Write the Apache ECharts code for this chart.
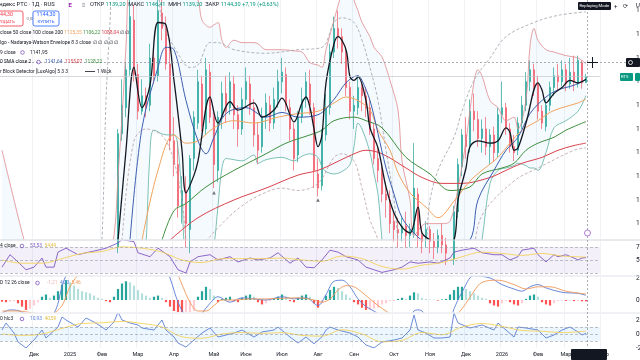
<!DOCTYPE html>
<html><head><meta charset="utf-8">
<script src="https://cdn.jsdelivr.net/npm/echarts@6/dist/echarts.min.js"></script>
<style>html,body{margin:0;padding:0;background:#fff;overflow:hidden}#c{width:640px;height:360px}</style>
</head><body><div id="c"></div>
<script>
// ---------- DATA ----------
const categoryCount = 150;
const monthTicks = [[8,'Дек'],[17,'2025'],[25,'Фев'],[34,'Мар'],[43,'Апр'],[53,'Май'],[61,'Июн'],[70,'Июл'],[79,'Авг'],[88,'Сен'],[98,'Окт'],[107,'Ноя'],[116,'Дек'],[125,'2026'],[134,'Фев'],[141,'Мар']];

const opens = [885,880,872,860,848,835,820,805,792,800,818,835,842,858,872,890,902,895,905,915,902,912,925,918,930,942,955,968,
985,1000,1096,1118,1150,1192,1146,1115,1128,1120,1160,1145,1198,1185,1155,1090,1070,1035,1048,1015,1075,1105,
1138,1100,1148,1110,1065,1110,1130,1118,1138,1112,1100,1125,1138,1118,1095,1085,1110,1120,1105,1125,
1140,1146,1118,1100,1078,1110,1125,1138,1118,1062,1052,1095,1118,1165,1185,1178,1165,1135,1115,1118,
1135,1128,1118,1100,1075,1065,1045,1040,1022,1015,1012,1018,1010,1012,1045,1010,1008,1015,1005,1000,
1010,1002,995,990,1030,1068,1095,1085,1115,1108,1092,1100,1085,1095,1080,1112,1118,1100,1085,1082,
1105,1120,1140,1150,1138,1115,1102,1120,1135,1145,1140,1150,1138,1148,1138,1156,1139.2];
const closes = [880,872,860,848,835,820,805,792,800,818,835,842,858,872,890,902,895,905,915,902,912,925,918,930,942,955,968,985,
1000,1096,1120,1150,1195,1146,1115,1128,1118,1160,1145,1200,1185,1155,1090,1070,1035,1048,1020,1075,1110,1140,
1102,1150,1110,1070,1110,1130,1115,1140,1112,1100,1125,1140,1118,1095,1082,1110,1122,1105,1125,1140,
1148,1120,1100,1075,1110,1125,1140,1120,1065,1050,1095,1118,1165,1185,1178,1165,1135,1115,1120,1135,
1128,1118,1100,1075,1065,1045,1040,1020,1015,1012,1018,1010,1015,1050,1010,1005,1015,1005,1000,1010,
1002,995,990,1030,1070,1095,1085,1115,1108,1092,1100,1085,1095,1080,1112,1118,1100,1085,1080,1105,
1120,1140,1150,1135,1115,1105,1120,1135,1145,1140,1150,1138,1148,1140,1158,1139,1144.3];
const lows = [876,868,855,842,830,815,800,786,788,796,812,830,838,852,866,885,890,890,900,898,898,908,912,915,926,938,950,962,
982,995,1090,1110,1145,1140,1108,1112,1110,1115,1138,1140,1175,1150,1082,1060,1025,1020,1000,995,1065,1100,
1098,1095,1105,1050,1055,1100,1105,1112,1100,1085,1095,1118,1112,1085,1070,1080,1100,1098,1100,1118,
1130,1115,1090,1065,1072,1105,1118,1112,1050,1043,1048,1090,1112,1160,1168,1155,1128,1108,1100,1112,
1115,1110,1095,1070,1055,1038,1025,1012,1005,1000,1005,1000,1000,1008,1000,995,1000,995,990,995,
995,985,980,985,1025,1060,1075,1080,1098,1085,1080,1078,1070,1072,1076,1105,1095,1080,1073,1078,
1100,1115,1132,1128,1108,1100,1098,1115,1128,1132,1136,1132,1134,1132,1135,1134,1139.2];
const highs = [890,884,876,864,852,840,824,810,806,822,840,848,862,876,895,907,905,910,920,918,916,930,928,935,946,960,972,990,
1004,1100,1142,1156,1215,1205,1155,1142,1135,1172,1170,1212,1210,1195,1170,1110,1090,1060,1060,1078,1115,1150,
1145,1160,1155,1115,1115,1140,1145,1148,1145,1120,1135,1152,1145,1125,1105,1118,1130,1128,1135,1150,
1160,1152,1125,1105,1115,1135,1148,1150,1122,1075,1100,1130,1172,1195,1200,1185,1170,1140,1128,1145,
1140,1135,1125,1105,1085,1070,1055,1048,1030,1025,1025,1030,1020,1088,1050,1018,1022,1018,1012,1015,
1020,1008,1005,1035,1075,1100,1110,1125,1130,1115,1108,1110,1100,1102,1118,1140,1122,1105,1095,1110,
1128,1148,1158,1155,1145,1120,1125,1140,1152,1155,1158,1155,1160,1162,1162,1158,1146.41];

const ema9 = [[29,1006],[31,1082],[33,1152],[35,1118],[37,1137],[39,1190],[41,1188],[43,1141],[45,1082],[46,1046],[48,1061],[49,1073],[52,1127],[54,1105],[57,1123],[59,1116],[63,1122],[65,1110],[68,1116],[70,1126],[73,1106],[75,1122],[76,1127],[77,1118],[78,1100],[79,1085],[80,1095],[81,1139],[83,1172],[84,1178],[86,1167],[87,1144],[88,1141],[89,1144],[91,1124],[92,1101],[94,1084],[96,1051],[98,1029],[100,1017],[102,1012],[104,1034],[105,1012],[107,1006],[110,995],[113,1006],[114,1040],[116,1067],[117,1085],[119,1090],[122,1088],[124,1090],[126,1101],[127,1097],[128,1082],[129,1084],[131,1105],[134,1139],[135,1133],[136,1122],[138,1130],[140,1135],[142,1141],[144,1139],[146,1141.95]];
const bbBasis = [[32,1006],[35,1101],[39,1152],[41,1169],[43,1167],[46,1124],[49,1090],[51,1079],[53,1093],[56,1113],[61,1118],[66,1110],[70,1114],[74,1110],[79,1112],[83,1125],[86,1139],[89,1145],[90,1141],[92,1124],[94,1096],[96,1067],[98,1045],[100,1025],[103,1012],[107,1000],[111,990],[117,1006],[119,1040],[123,1065],[126,1082],[129,1093],[132,1113],[136,1127],[139,1133],[143,1137],[146,1141.64]];
const bbIdx   = [0,3,6,12,20,26,28,29,30,31,32,35,36,37,38,41,43,44,45,46,49,50,52,53,54,55,56,58,60,63,64,66,70,73,75,77,79,80,81,83,85,87,88,89,90,92,93,94,95,96,97,99,100,102,103,106,110,112,114,116,118,119,120,122,124,126,128,129,131,132,133,134,136,138,141,144,146];
const bbUpper = [1082,1040,1000,930,950,985,1010,1060,1110,1170,1230,1260,1260,1260,1260,1250,1240,1235,1230,1225,1209,1192,1186,1188,1190,1175,1169,1175,1173,1173,1172,1167,1167,1166,1165,1156,1154,1152,1167,1192,1215,1230,1209,1200,1190,1178,1169,1165,1161,1152,1141,1116,1073,1040,1010,1020,1020,1022,1050,1090,1140,1150,1145,1124,1118,1107,1110,1100,1125,1170,1185,1175,1167,1165,1162,1160,1155.07];
const bbLower = [820,810,790,780,840,880,900,880,870,880,900,950,1000,1080,1099,1095,1095,1084,1040,990,960,960,980,1000,1035,1067,1075,1074,1073,1078,1071,1074,1076,1073,1077,1079,1076,1068,1064,1062,1064,1070,1085,1105,1100,1080,1062,1045,1006,975,960,940,935,930,932,935,940,945,950,960,975,990,1006,1054,1065,1067,1069,1071,1069,1067,1067,1065,1080,1101,1107,1115,1128.22];
const ma50  = [[35,1006],[39,1065],[43,1095],[46,1088],[49,1090],[53,1101],[58,1107],[63,1105],[69,1110],[74,1113],[79,1115],[83,1122],[86,1127],[89,1124],[92,1116],[94,1099],[97,1082],[99,1063],[102,1046],[106,1034],[109,1025],[113,1039],[117,1056],[120,1065],[124,1076],[127,1088],[130,1099],[134,1107],[137,1114],[140,1118],[144,1122],[146,1125.35]];
const ma100 = [[40,1006],[43,1031],[46,1037],[51,1051],[58,1065],[66,1079],[71,1088],[77,1095],[80,1099],[83,1107],[88,1110],[91,1107],[95,1101],[101,1076],[107,1062],[112,1048],[117,1051],[120,1062],[125,1067],[128,1071],[131,1082],[134,1088],[138,1093],[141,1099],[146,1106.22]];
const ma200 = [[42,1006],[49,1025],[58,1040],[66,1050],[74,1061],[79,1065],[83,1071],[88,1079],[91,1082],[95,1079],[101,1067],[105,1059],[110,1054],[115,1054],[122,1059],[126,1065],[130,1071],[135,1076],[139,1082],[143,1086],[146,1088.04]];
const nwUpper = [[24,960],[25,1006],[26,1124],[27,1190],[28,1240],[38,1240],[40,1192],[45,1158],[47,1152],[49,1154],[52,1173],[54,1173],[58,1167],[66,1164],[74,1167],[80,1169],[83,1190],[85,1194],[88,1190],[90,1175],[92,1152],[94,1124],[96,1082],[98,1040],[99,1006],[100,980],[105,990],[107,1040],[109,1065],[113,1093],[115,1115],[118,1141],[122,1160],[126,1178],[133,1190],[139,1196],[146,1199]];
const nwLower = [[28,900],[30,1006],[33,1090],[36,1100],[39,1097],[41,1090],[43,1073],[45,1040],[46,1006],[47,980],[50,1000],[55,1020],[60,1035],[65,1045],[70,1050],[74,1048],[79,1054],[83,1076],[85,1079],[88,1073],[90,1050],[92,1023],[94,1006],[95,980],[110,960],[117,990],[120,1027],[128,1056],[134,1067],[143,1082],[146,1084]];
const pivotLows = [[53,1046],[79,1040]];

const rsi = [[0,39],[2,58],[4,47],[6,35],[8,39],[10,53],[11,39],[13,39],[14,62],[16,68],[19,58],[21,61],[24,65],[26,68],[29,76],[30,81],[33,78],[34,61],[37,55],[39,68],[42,55],[44,35],[46,30],[47,47],[49,55],[52,58],[54,50],[57,55],[59,47],[62,53],[64,50],[67,53],[69,61],[72,45],[74,53],[76,39],[78,38],[80,50],[82,65],[84,62],[86,55],[89,50],[91,39],[93,35],[95,31],[98,35],[100,39],[102,47],[104,45],[107,47],[109,45],[112,53],[113,62],[115,65],[118,68],[120,61],[123,58],[125,58],[127,50],[129,55],[130,65],[133,68],[134,58],[136,47],[138,58],[139,55],[141,58],[143,53],[144,50],[145,53],[146,53.53]];
const rsiMa = [[0,50],[5,45],[10,45],[15,52],[20,60],[25,63],[30,70],[35,68],[40,62],[45,50],[50,46],[55,52],[60,52],[65,52],[70,53],[75,50],[80,48],[85,56],[90,52],[95,40],[100,36],[105,42],[110,46],[115,55],[120,62],[125,60],[130,57],[135,60],[140,56],[146,54.49]];
const macdHist = [-1.5,-2,-1.5,-1,-3,-6,-9,-8,-5,-2,
3,5,2,4,8,14,18,16,13,10,
8,7,6,4,2,1,-1,-2,3,10,
15,17,16,13,9,6,4,2,3,4,
2,-2,-6,-10,-14,-16,-16,-14,-10,3,
8,12,10,4,-2,1,2,3,-1,-2,
2,4,5,3,-2,-4,-3,-1,1,3,
5,3,-1,-2,2,4,5,3,-3,-7,
-3,4,9,12,11,8,5,2,-2,-4,
-7,-9,-9,-8,-7,-4,-3,-1,-1,1,
2,1,4,7,6,2,1,0.5,0.3,-0.5,
0.5,1,5,9,12,12,10,8,6,4,
2,1,-3,-5,-6,-3,-1,-2,-4,-5,
-3,1,4,5,3,-2,-4,-5,-3,-1,
-0.5,-0.8,-0.6,-1,-0.8,-1.2,-1.21];
const macdLine = [[0,-12],[2,-9],[4,-9.5],[6,-13],[10,-15],[13,-12],[16,22],[20,35],[30,40],[40,35],[42,20],[44,-2],[46,-15],[48,-20],[50,-12],[52,-3],[54,3],[57,-2],[60,2],[63,1],[66,0],[70,3],[73,1],[76,2],[79,-5],[81,5],[83,17],[85,18],[87,12],[89,1],[91,-6],[93,-10],[95,-15],[100,-25],[103,-10],[104,-9],[105,-10],[108,-22],[112,-18],[113,-8],[115,7],[118,22],[122,20],[125,14],[128,10],[130,8],[132,12],[134,14],[136,11],[140,7],[144,6],[146,4.23]];
const macdSignal = [[0,-10],[4,-10],[8,-12],[12,-13],[15,-5],[17,12],[20,25],[30,35],[40,38],[43,30],[45,14],[47,-2],[49,-10],[51,-10],[53,-5],[55,0],[58,0],[62,1],[66,1],[70,1.5],[74,2],[78,0],[80,-2],[82,1],[84,9],[86,13],[88,12],[90,7],[92,1],[94,-5],[96,-10],[100,-18],[104,-14],[108,-15],[112,-17],[114,-12],[116,-3],[118,8],[120,16],[124,18],[128,14],[131,10],[134,12],[137,12],[141,8],[146,5.46]];
const cci = [[0,57],[1,157],[3,14],[4,-114],[6,-200],[8,-86],[10,57],[11,-57],[14,100],[15,243],[16,200],[19,100],[21,229],[23,171],[25,100],[26,57],[28,171],[29,314],[30,200],[32,157],[34,129],[35,86],[38,57],[40,200],[41,57],[43,-43],[44,-129],[46,-186],[48,-86],[50,14],[52,86],[54,-43],[58,14],[60,57],[63,-43],[65,29],[68,57],[69,100],[72,-43],[74,-129],[76,-43],[78,-140],[80,-40],[81,57],[82,100],[84,57],[87,14],[89,-43],[91,-157],[93,-200],[95,-114],[98,-86],[100,-57],[102,57],[103,271],[104,57],[106,14],[108,-57],[110,-57],[112,-43],[113,300],[114,157],[117,86],[120,129],[123,57],[124,157],[126,57],[128,-43],[129,100],[131,86],[134,57],[136,-57],[138,-14],[140,57],[142,100],[144,29],[145,-14],[146,10.93]];
const cciMa = [[0,0],[5,-20],[10,0],[15,80],[20,150],[25,160],[30,180],[35,150],[40,100],[45,-40],[50,-60],[55,0],[60,20],[65,10],[70,20],[75,-20],[80,-30],[85,60],[90,0],[95,-110],[100,-90],[105,20],[110,-10],[115,100],[120,150],[125,110],[130,50],[135,40],[140,20],[146,40.59]];

const priceTicks = [1020,1040,1060,1080,1100,1120,1140,1160,1180,1200];
const rsiTicks = [50,70];
const macdTicks = [0,20];
const cciTicks = [-200,0,200];

// ---------- BUILD ----------
const cats = new Array(categoryCount).fill('');
monthTicks.forEach(([i,l]) => { cats[i] = l; });
const tickSet = new Set(monthTicks.map(m => m[0]));
const candles = opens.map((o,i) => [o, closes[i], lows[i], highs[i]]);
const bandBase = bbIdx.map((x,k) => [x, bbLower[k]]);
const bandDiff = bbIdx.map((x,k) => [x, bbUpper[k] - bbLower[k]]);
const upperPts = bbIdx.map((x,k) => [x, bbUpper[k]]);
const lowerPts = bbIdx.map((x,k) => [x, bbLower[k]]);
const FONT = 'Roboto, "Noto Sans", sans-serif';
const TXT = '#131722';

const grids = [
  {left:0, right:40, top:0, height:239},
  {left:0, right:40, top:241, height:34},
  {left:0, right:40, top:277, height:35},
  {left:0, right:40, top:314, height:34}
].map(g => Object.assign(g, {containLabel:false, outerBoundsMode:'none'}));
const xAxes = grids.map((g,k) => ({
  type:'category', gridIndex:k, data:cats, boundaryGap:true,
  axisLine:{show:false}, axisTick:{show:false},
  splitLine:{show:true, interval:(i)=>tickSet.has(i), lineStyle:{color:'#f0f2f6', width:1}},
  axisLabel:{show:k===3, interval:(i,v)=>v!=='', color:TXT, fontSize:5.5, fontFamily:FONT, margin:4}
}));
function yAx(k, min, max, ticks) {
  return {type:'value', gridIndex:k, position:'right', min, max,
    axisLine:{show:false}, axisTick:{show:false}, splitLine:{show:false},
    axisLabel:{show:true, customValues:ticks, formatter:(v)=>String(v), color:TXT, fontSize:6.5, fontFamily:FONT, margin:36, align:'left'}};
}
const yAxes = [yAx(0,1007,1209,priceTicks), yAx(1,27,79,rsiTicks), yAx(2,-10.9,20.9,macdTicks), yAx(3,-200,286,cciTicks)];

function line(name, data, color, width, k, extra) {
  return Object.assign({type:'line', name, data, xAxisIndex:k, yAxisIndex:k, showSymbol:false, silent:true,
    lineStyle:{color, width}, smooth:0.35, clip:true, z:4}, extra||{});
}

const series = [
  {type:'line', data:bandBase, stack:'bb', xAxisIndex:0, yAxisIndex:0, showSymbol:false, silent:true, smooth:0.35,
   lineStyle:{opacity:0}, z:1},
  {type:'line', data:bandDiff, stack:'bb', xAxisIndex:0, yAxisIndex:0, showSymbol:false, silent:true, smooth:0.35,
   lineStyle:{opacity:0}, areaStyle:{color:'rgba(33,150,243,0.07)'}, z:1},
  {type:'candlestick', data:candles, xAxisIndex:0, yAxisIndex:0, barWidth:'50%', clip:true, silent:true, z:2,
   itemStyle:{color:'rgba(38,166,154,0.9)', color0:'rgba(242,82,96,0.85)', borderColor:'rgba(38,166,154,0.9)', borderColor0:'rgba(242,82,96,0.85)', borderWidth:0.8},
   markLine:{symbol:'none', silent:true, label:{show:false}, lineStyle:{color:'#c3c6ce', width:0.7, type:'solid'},
     data:[{yAxis:closes[closes.length-1]}]}},
  line('bbUpper', upperPts, '#e08a8e', 0.8, 0),
  line('bbLower', lowerPts, '#5fb3a3', 0.8, 0),
  line('nwUpper', nwUpper, '#9ea1a8', 0.8, 0, {lineStyle:{color:'#9ea1a8', width:0.8, type:[3,2]}}),
  line('nwLower', nwLower, '#b9a0a3', 0.8, 0, {lineStyle:{color:'#b9a0a3', width:0.8, type:[3,2]}}),
  line('ma200', ma200, '#d9424c', 1, 0),
  line('ma100', ma100, '#3f8f3f', 1, 0),
  line('ma50', ma50, '#f0a35e', 1, 0),
  line('bbBasis', bbBasis, '#3d5fb0', 1, 0),
  line('ema9', ema9, '#131722', 1.3, 0),
  {type:'scatter', data:pivotLows, xAxisIndex:0, yAxisIndex:0, symbol:'triangle', symbolSize:3.5, itemStyle:{color:'#4a4e58'}, silent:true, z:5},
  // RSI
  line('rsi', rsi, '#7e57c2', 0.9, 1, {smooth:false,
    markArea:{silent:true, itemStyle:{color:'rgba(126,87,194,0.09)'}, data:[[{yAxis:30},{yAxis:70}]]},
    markLine:{symbol:'none', silent:true, label:{show:false}, lineStyle:{color:'#9598a1', width:0.6, type:[3,2]},
      data:[{yAxis:70},{yAxis:50},{yAxis:30}]}}),
  line('rsiMa', rsiMa, '#f4d35e', 0.9, 1),
  // MACD
  {type:'bar', data:macdHist, xAxisIndex:2, yAxisIndex:2, barWidth:'55%', silent:true, clip:true,
   itemStyle:{color:(p)=>{const v=macdHist[p.dataIndex], pr=p.dataIndex>0?macdHist[p.dataIndex-1]:0;
     return v>=0 ? (v>=pr?'#26a69a':'#b2dfdb') : (v<pr?'#ff5252':'#ffcdd2');}}},
  line('macd', macdLine, '#5b7fd6', 0.9, 2),
  line('signal', macdSignal, '#f09a5a', 0.9, 2),
  // CCI
  line('cci', cci, '#5b7fd6', 0.9, 3, {smooth:false,
    markArea:{silent:true, itemStyle:{color:'rgba(33,150,243,0.09)'}, data:[[{yAxis:-100},{yAxis:100}]]},
    markLine:{symbol:'none', silent:true, label:{show:false}, lineStyle:{color:'#9598a1', width:0.6, type:[3,2]},
      data:[{yAxis:100},{yAxis:0},{yAxis:-100}]}}),
  line('cciMa', cciMa, '#f4d35e', 0.9, 3)
];

// ---------- OVERLAY TEXT ----------
const G = '#089981', R = '#f23645';
const richBase = {
  t:{fill:TXT}, g:{fill:G}, r:{fill:'#d9424c'}, o:{fill:'#f0a35e'}, dg:{fill:'#3f8f3f'}, b:{fill:'#3d5fb0'},
  p:{fill:'#7e57c2'}, y:{fill:'#e2c044'}, bl:{fill:'#5b7fd6'}, pk:{fill:'#f4b7bb'}, or:{fill:'#f09a5a'}
};
function RT(x,y,text,size){
  const rich = {}; Object.keys(richBase).forEach(k => { rich[k] = Object.assign({font:size+'px '+FONT}, richBase[k]); });
  return {type:'text', z:100, silent:true, style:{x,y,text,font:size+'px '+FONT,fill:TXT,align:'left',verticalAlign:'middle',rich}};
}
function T(x,y,text,fill,size,align){return {type:'text', z:100, silent:true,
  style:{x,y,text,fill:fill||TXT,font:(size||5)+'px '+FONT,align:align||'left',verticalAlign:'middle'}};}
function gear(x,y){return {type:'circle', z:100, silent:true, shape:{cx:x,cy:y,r:1.8}, style:{fill:'none',stroke:'#7e57c2',lineWidth:0.8}};}
const graphic = [
  // pane separators
  {type:'line', z:90, silent:true, shape:{x1:0,y1:240,x2:640,y2:240}, style:{stroke:'#d1d4dc',lineWidth:1}},
  {type:'line', z:90, silent:true, shape:{x1:0,y1:276,x2:640,y2:276}, style:{stroke:'#e0e3eb',lineWidth:1}},
  {type:'line', z:90, silent:true, shape:{x1:0,y1:313,x2:640,y2:313}, style:{stroke:'#e0e3eb',lineWidth:1}},
  // crosshair
  {type:'line', z:95, silent:true, shape:{x1:587.5,y1:0,x2:587.5,y2:348}, style:{stroke:'#9598a1',lineWidth:0.8,lineDash:[2,2]}},
  {type:'line', z:95, silent:true, shape:{x1:0,y1:62.5,x2:626,y2:62.5}, style:{stroke:'#9598a1',lineWidth:0.8,lineDash:[2,2]}},
  {type:'line', z:101, silent:true, shape:{x1:587,y1:62.5,x2:598,y2:62.5}, style:{stroke:'#131722',lineWidth:1}},
  {type:'line', z:101, silent:true, shape:{x1:592.5,y1:57,x2:592.5,y2:68}, style:{stroke:'#131722',lineWidth:1}},
  // row 1
  T(-5,5,'Индекс РТС · 1Д · RUS',TXT,5.8),
  {type:'text', z:100, silent:true, style:{x:68.5,y:5,text:'E',fill:'#9c27b0',font:'bold 6px '+FONT,verticalAlign:'middle'}},
  T(82,5,'≡','#787b86',6),
  RT(90,5,'{t|ОТКР}{g| 1139,20}{t|  МАКС}{g| 1146,41}{t|  МИН}{g| 1139,20}{t|  ЗАКР}{g| 1144,30 +7,19 (+0,63%)}',5.6),
  // buy / sell
  {type:'rect', z:100, silent:true, shape:{x:-12,y:11,width:35,height:15,r:2}, style:{fill:'#fff',stroke:R,lineWidth:0.8}},
  T(5,15,'144,30',R,5.3,'center'),
  T(5,22,'ПРОДАТЬ',R,4.3,'center'),
  T(26.5,18.5,'0,00','#787b86',4.3),
  {type:'rect', z:100, silent:true, shape:{x:33,y:11,width:26,height:15,r:2}, style:{fill:'#fff',stroke:'#2962ff',lineWidth:0.8}},
  T(46,15,'1144,30','#2962ff',5.3,'center'),
  T(46,22,'КУПИТЬ','#2962ff',4.3,'center'),
  // indicator legends
  RT(0,32.5,'{t|close 50 close 100 close 200 }{o|1125,35 }{dg|1106,22 }{r|1088,04 }{t|∅ ∅}',4.9),
  RT(0,42.5,'{t|lgo - Nadaraya-Watson Envelope 8 3 close  ∅ ∅ ∅ ∅ ∅}',4.9),
  RT(0,52.5,'{t|9 close}',4.9), gear(22.5,52.5), RT(30,52.5,'{t|1141,95}',4.9),
  RT(0,62,'{t|0 SMA close 2}',4.9), gear(38.5,62), RT(45,62,'{b|1141,64}{t|  }{r|1155,07}{t|  }{dg|1128,22}',4.9),
  RT(0,71.5,'{t|r Block Detector [LuxAlgo] 5 3 3}',4.9),
  {type:'line', z:100, silent:true, shape:{x1:85,y1:71.5,x2:95,y2:71.5}, style:{stroke:TXT,lineWidth:0.8}},
  RT(97,71.5,'{t|1 Wick}',4.9),
  RT(0,246,'{t|4 close}',4.9), gear(22,246), RT(30,246,'{p|53,53}{t|  }{y|54,49}',4.9),
  RT(0,283,'{t|D 12 26 close}',4.9), gear(37.5,283), RT(47,283,'{pk|-1,21}{t|  }{bl|4,23}{t|  }{or|5,46}',4.9),
  RT(0,319,'{t|0 hlc3}',4.9), gear(22,319), RT(30,319,'{bl|10,93}{t|  }{y|40,59}',4.9),
  // right side widgets
  {type:'rect', z:100, silent:true, shape:{x:578,y:2,width:33,height:8,r:1}, style:{fill:'#131722'}},
  T(579.5,6,'Replaying Mode','#ffffff',4.2),
  T(614,6,'+',TXT,6), T(623,6,'⟳',TXT,6), T(636,5,'U',TXT,6),
  {type:'rect', z:100, silent:true, shape:{x:626,y:58,width:14,height:9,r:1}, style:{fill:'#131722'}},
  {type:'circle', z:101, silent:true, shape:{cx:630.5,cy:62.5,r:2}, style:{fill:'none',stroke:'#fff',lineWidth:0.8}},
  {type:'rect', z:100, silent:true, shape:{x:620,y:73,width:13,height:8,r:1}, style:{fill:'#089981'}},
  T(621,77,'RTS','#ffffff',4.2),
  {type:'rect', z:100, silent:true, shape:{x:635,y:73,width:5,height:8,r:1}, style:{fill:'#089981'}},
  {type:'circle', z:100, silent:true, shape:{cx:587.5,cy:233,r:3}, style:{fill:'#fff',stroke:'#9c5bd0',lineWidth:0.8}},
  // x-axis edge labels and crosshair date
  T(-10,355,'Ноя',TXT,5.5),
  T(599,355,'Апр',TXT,5.5),
  {type:'rect', z:102, silent:true, shape:{x:571,y:349,width:36,height:11,r:1}, style:{fill:'#131722'}},
  T(589,355,"вт 17 Мар '26",'#ffffff',5.3,'center')
];

const chart = echarts.init(document.getElementById('c'), null, {renderer:'canvas'});
chart.setOption({
  animation:false, backgroundColor:'#ffffff',
  grid:grids, xAxis:xAxes, yAxis:yAxes, series, graphic
});
</script>
</body></html>
